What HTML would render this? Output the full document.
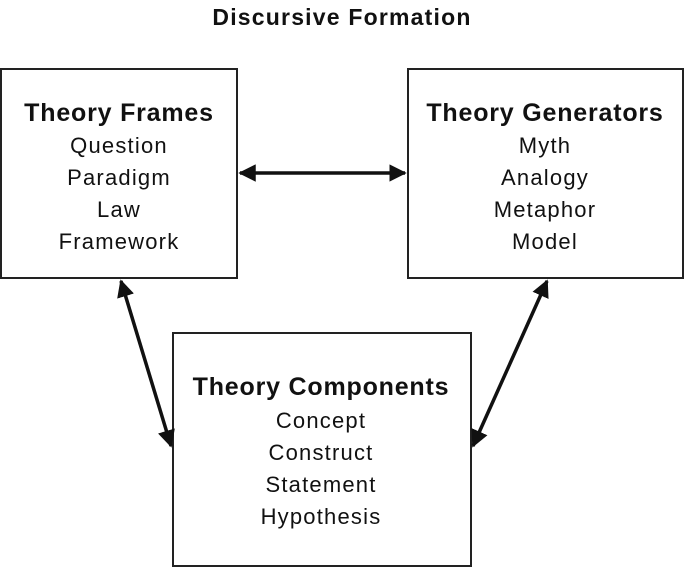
<!DOCTYPE html>
<html><head><style>
body{margin:0;width:685px;height:567px;background:#fff;overflow:hidden}
svg text{font-family:"Liberation Sans",sans-serif;fill:#111;text-anchor:middle}
.h{font-weight:bold;font-size:25px;letter-spacing:0.8px}
.i{font-size:22px;letter-spacing:1.2px}
</style></head><body>
<svg width="685" height="567" viewBox="0 0 685 567">
<defs><marker id="a" viewBox="0 0 10 10" refX="9" refY="5" markerWidth="5" markerHeight="5" orient="auto-start-reverse"><path d="M0,0L10,5L0,10z" fill="#111"/></marker></defs>
<text x="342" y="25" class="h" style="font-size:23px;letter-spacing:1.2px">Discursive Formation</text>
<g fill="none" stroke="#222" stroke-width="2">
<rect x="1" y="69" width="236" height="209"/>
<rect x="408" y="69" width="275" height="209"/>
<rect x="173" y="333" width="298" height="233"/>
</g>
<g stroke="#111" stroke-width="3.5" marker-start="url(#a)" marker-end="url(#a)">
<line x1="240" y1="173" x2="405" y2="173"/>
<line x1="121" y1="281" x2="171" y2="446"/>
<line x1="547" y1="281" x2="473" y2="446"/>
</g>
<text x="119" y="121" class="h">Theory Frames</text>
<text x="119" y="153" class="i">Question</text>
<text x="119" y="185" class="i">Paradigm</text>
<text x="119" y="217" class="i">Law</text>
<text x="119" y="249" class="i">Framework</text>
<text x="545" y="121" class="h">Theory Generators</text>
<text x="545" y="153" class="i">Myth</text>
<text x="545" y="185" class="i">Analogy</text>
<text x="545" y="217" class="i">Metaphor</text>
<text x="545" y="249" class="i">Model</text>
<text x="321" y="395" class="h">Theory Components</text>
<text x="321" y="428" class="i">Concept</text>
<text x="321" y="460" class="i">Construct</text>
<text x="321" y="492" class="i">Statement</text>
<text x="321" y="524" class="i">Hypothesis</text>
</svg>
</body></html>
